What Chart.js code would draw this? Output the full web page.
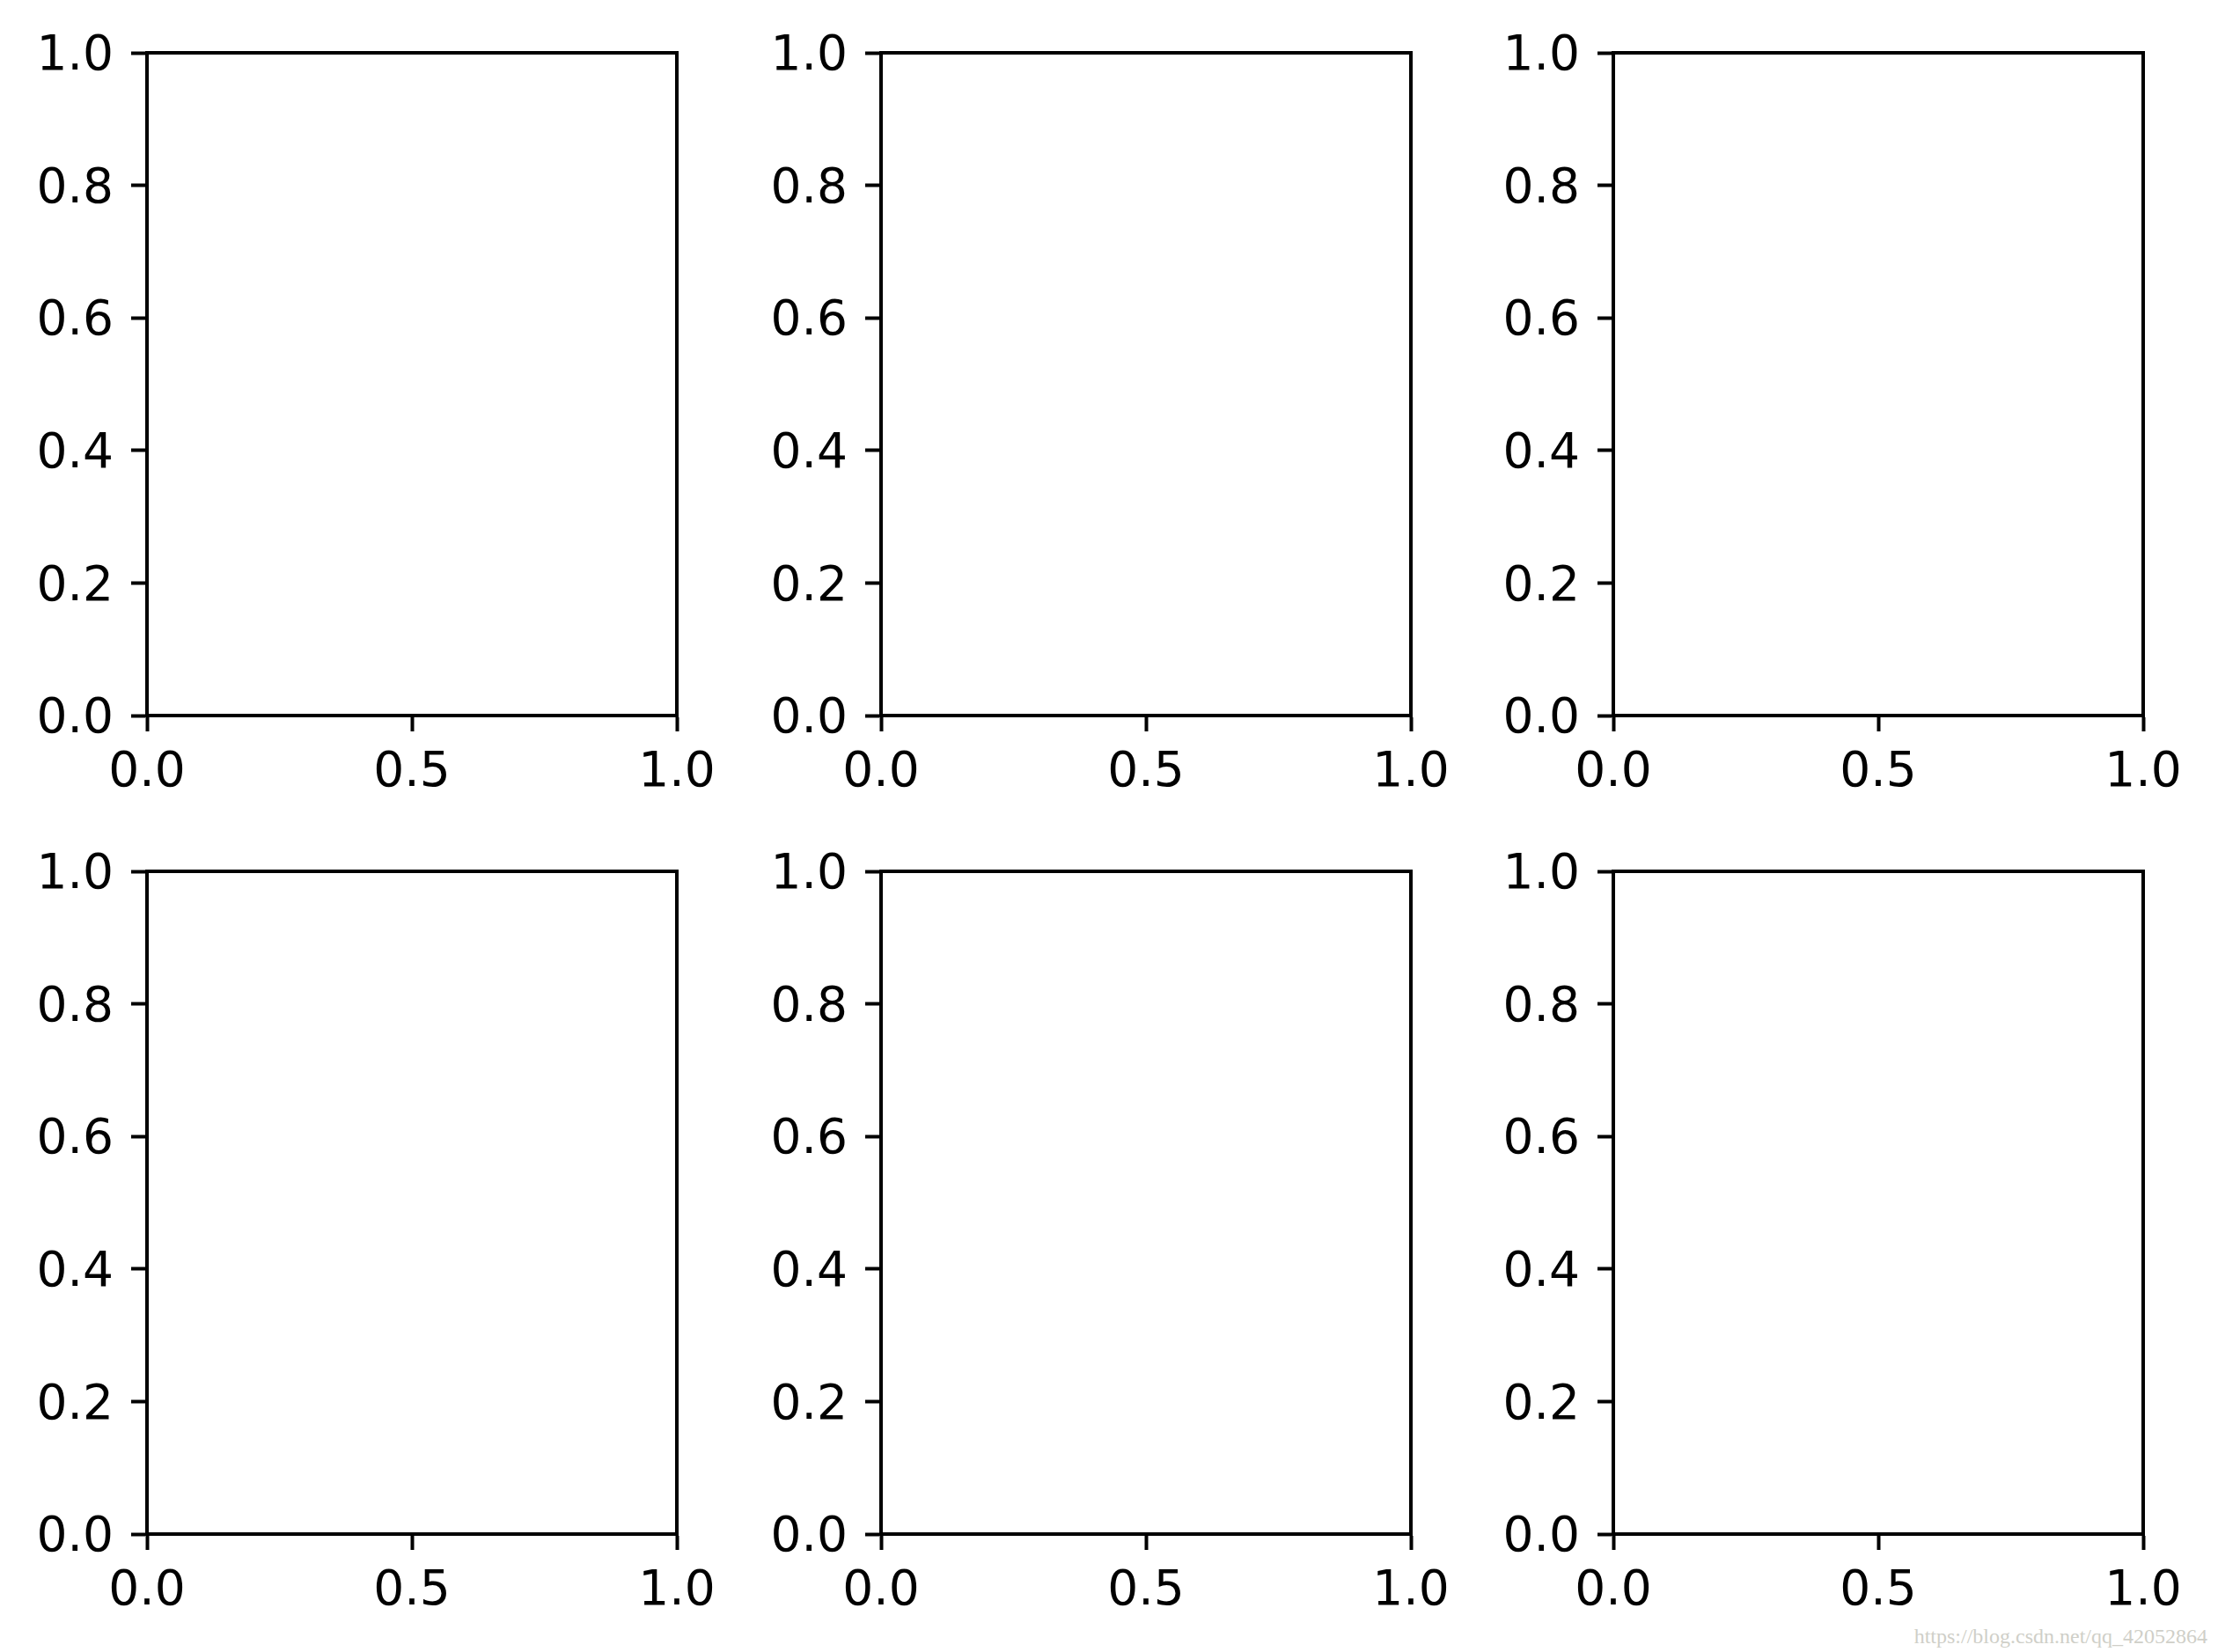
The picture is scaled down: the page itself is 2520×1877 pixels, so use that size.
<!DOCTYPE html>
<html>
<head>
<meta charset="utf-8">
<script src="https://cdn.jsdelivr.net/npm/chart.js@4/dist/chart.umd.min.js"></script>
<style>
  html, body { margin: 0; padding: 0; background: #fff; }
  body { width: 2520px; height: 1877px; position: relative; overflow: hidden; }
  canvas { position: absolute; }
  #mark { position: absolute; right: 12px; top: 1847px; font: 24px/24px "Liberation Serif", serif; color: #cfcfc8; white-space: nowrap; }
</style>
</head>
<body>
<div id="mark">https://blog.csdn.net/qq_42052864</div>
<script>
// data: six empty subplots, 2 rows x 3 columns
var xTicks = [0, 0.5, 1.0];
var yTicks = [0, 0.2, 0.4, 0.6, 0.8, 1.0];
var colLeft = [167, 1001, 1833];
var rowTop = [60, 990];
var axW = 602, axH = 753;

// room round each axes box inside its canvas
var L = 170, T = 40, R = 70, B = 130;

var frame = {
    id: 'frame',
    afterDraw: function (chart) {
        var a = chart.chartArea, c = chart.ctx;
        c.save();
        c.strokeStyle = '#000';
        c.lineWidth = 4;
        c.strokeRect(a.left, a.top, a.right - a.left, a.bottom - a.top);
        c.restore();
    }
};

function axisOpts(ticks, isX) {
    return {
        type: 'linear',
        position: isX ? 'bottom' : 'left',
        min: 0,
        max: 1,
        afterBuildTicks: function (s) {
            s.ticks = ticks.map(function (v) { return { value: v }; });
        },
        afterFit: function (s) {
            if (isX) s.height = B; else s.width = L;
            s.paddingLeft = 0; s.paddingRight = 0; s.paddingTop = 0; s.paddingBottom = 0;
        },
        grid: {
            drawOnChartArea: false,
            drawTicks: true,
            tickLength: 18,
            tickWidth: 4,
            tickColor: '#000'
        },
        border: { display: true, color: '#000', width: 4 },
        ticks: {
            color: '#000',
            padding: isX ? 15 : 20,
            labelOffset: isX ? 0 : 5,
            maxRotation: 0,
            autoSkip: false,
            font: { family: 'DejaVu Sans', size: 55 },
            callback: function (v) { return Number(v).toFixed(1); }
        }
    };
}

for (var r = 0; r < rowTop.length; r++) {
    for (var k = 0; k < colLeft.length; k++) {
        var cv = document.createElement('canvas');
        cv.width = axW + L + R;
        cv.height = axH + T + B;
        cv.style.left = (colLeft[k] - L) + 'px';
        cv.style.top = (rowTop[r] - T) + 'px';
        document.body.appendChild(cv);
        new Chart(cv.getContext('2d'), {
            type: 'scatter',
            data: { datasets: [] },
            options: {
                responsive: false,
                animation: false,
                devicePixelRatio: 1,
                layout: { padding: { left: 0, top: T, right: R, bottom: 0 } },
                plugins: { legend: { display: false }, tooltip: { enabled: false } },
                scales: { x: axisOpts(xTicks, true), y: axisOpts(yTicks, false) }
            },
            plugins: [frame]
        });
    }
}
</script>
</body>
</html>
